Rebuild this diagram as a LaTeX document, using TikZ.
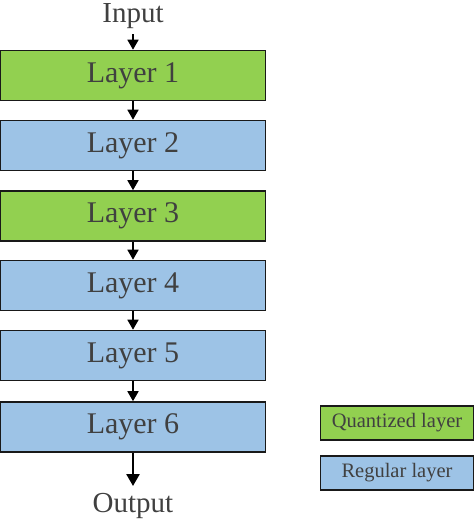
\documentclass[tikz,border=0pt]{standalone}
\usepackage{fontspec}
\setmainfont{Liberation Serif}
\usetikzlibrary{arrows.meta}
\definecolor{qgreen}{HTML}{92D050}
\definecolor{rblue}{HTML}{9DC3E6}
\definecolor{txt}{HTML}{404040}
\begin{document}
\begin{tikzpicture}[x=1pt,y=-1pt,
  layerbox/.style={draw=black!90,line width=1.6pt,minimum width=265pt,minimum height=50pt,inner sep=0pt,text=txt,font=\fontsize{30}{31}\selectfont},
  legbox/.style={draw=black!90,line width=1.6pt,minimum width=153pt,minimum height=34pt,inner sep=0pt,text=txt,font=\fontsize{20.5}{21}\selectfont},
  lbl/.style={text=txt,font=\fontsize{29}{30}\selectfont,inner sep=0pt,anchor=base},
  flow/.style={line width=1.6pt,-{Triangle[length=10pt,width=11pt]}}]
\useasboundingbox (0,0) rectangle (474,523);
\node[lbl] (in) at (133,22) {Input};
\node[layerbox,fill=qgreen] (l1) at (133,75.5) {Layer 1};
\node[layerbox,fill=rblue] (l2) at (133,145.5) {Layer 2};
\node[layerbox,fill=qgreen] (l3) at (133,216) {Layer 3};
\node[layerbox,fill=rblue] (l4) at (133,285.5) {Layer 4};
\node[layerbox,fill=rblue] (l5) at (133,355.5) {Layer 5};
\node[layerbox,fill=rblue] (l6) at (133,427) {Layer 6};
\node[lbl] (out) at (133,512) {Output};
\node[legbox,fill=qgreen] (q) at (397,423) {Quantized layer};
\node[legbox,fill=rblue] (r) at (397,473) {Regular layer};
\draw[flow] (133,34) -- (l1.north);
\draw[flow] (l1) -- (l2);
\draw[flow] (l2) -- (l3);
\draw[flow] (l3) -- (l4);
\draw[flow] (l4) -- (l5);
\draw[flow] (l5) -- (l6);
\draw[line width=2.6pt,-{Triangle[length=12pt,width=13pt]}] (l6) -- (133,486);
\end{tikzpicture}
\end{document}
